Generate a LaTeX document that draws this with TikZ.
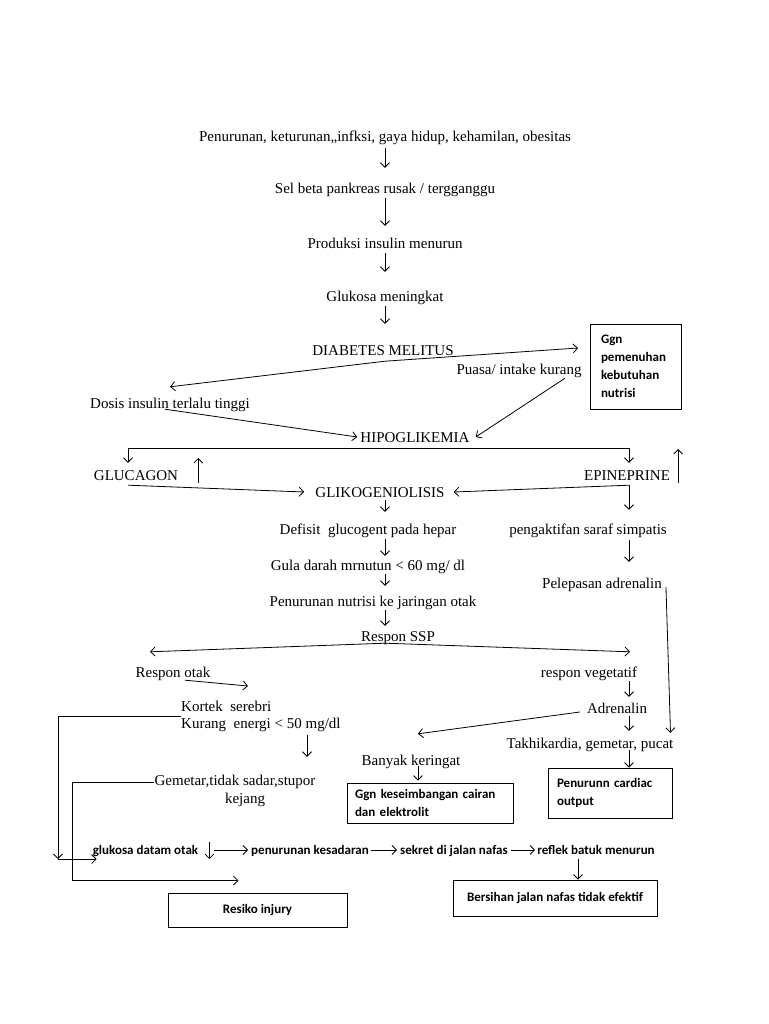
\documentclass[tikz,border=0pt]{standalone}
\usepackage{fontspec}
\setmainfont{Liberation Serif}
\newfontfamily\boxfont{Carlito}
\usetikzlibrary{arrows.meta}
\begin{document}
\begin{tikzpicture}[x=1pt,y=-1pt,
  txt/.style={inner sep=0pt, font=\fontsize{15}{17}\selectfont, text height=10pt, text depth=0pt},
  arr/.style={line width=0.8pt, -{Straight Barb[length=4.5pt,width=9pt]}},
  bx/.style={draw, line width=0.8pt, inner sep=0pt, font=\boxfont\bfseries\fontsize{13}{18}\selectfont},
  bt/.style={inner sep=0pt, font=\boxfont\bfseries\fontsize{13}{15}\selectfont, text height=9pt, text depth=0pt}]
\useasboundingbox[fill=white] (0,0) rectangle (768,1024);

% ---- text nodes ----
\node[txt] (t1) at (385,137) {Penurunan, keturunan,,infksi, gaya hidup, kehamilan, obesitas};
\node[txt] (t2) at (385,189) {Sel beta pankreas rusak / tergganggu};
\node[txt] (t3) at (385,243) {Produksi insulin menurun};
\node[txt] (t4) at (385,296) {Glukosa meningkat};
\node[txt] (dm) at (383,350) {DIABETES MELITUS};
\node[txt] (puasa) at (519,369) {Puasa/ intake kurang};
\node[txt] (dosis) at (170,403) {Dosis insulin terlalu tinggi};
\node[txt] (hipo) at (415,437) {HIPOGLIKEMIA};
\node[txt] (glucagon) at (136,475) {GLUCAGON};
\node[txt] (epi) at (627,475) {EPINEPRINE};
\node[txt] (gliko) at (380,492) {GLIKOGENIOLISIS};
\node[txt] (defisit) at (368,529) {Defisit~ glucogent pada hepar};
\node[txt] (pengak) at (588,529) {pengaktifan saraf simpatis};
\node[txt] (gula) at (368,565) {Gula darah mrnutun < 60 mg/ dl};
\node[txt] (pelepasan) at (602,583) {Pelepasan adrenalin};
\node[txt] (pn) at (373,601) {Penurunan nutrisi ke jaringan otak};
\node[txt] (ssp) at (398,636) {Respon SSP};
\node[txt] (resotak) at (173,672) {Respon otak};
\node[txt] (resveg) at (589,672) {respon vegetatif};
\node[inner sep=0pt, font=\fontsize{15}{17}\selectfont, align=left, anchor=west] (kortek) at (181,716.5) {Kortek~ serebri\\Kurang~ energi < 50 mg/dl};
\node[txt] (adren) at (617,708) {Adrenalin};
\node[txt] (takhi) at (590,743) {Takhikardia, gemetar, pucat};
\node[txt] (banyak) at (411,760) {Banyak keringat};
\node[txt] (gem1) at (235,780) {Gemetar,tidak sadar,stupor};
\node[txt] (gem2) at (245,798) {kejang};

% ---- boxes ----
\node[bx, minimum width=91pt, minimum height=85pt, text width=70pt, align=left] (ggn) at (636,366.5) {Ggn\\pemenuhan\\kebutuhan\\nutrisi};
\node[bx, minimum width=166pt, minimum height=40pt, text width=150pt, align=left] (kes) at (430,803) {Ggn keseimbangan cairan\\dan elektrolit};
\node[bx, minimum width=124pt, minimum height=50pt, text width=106pt, align=left] (cardiac) at (610,793) {Penurunn cardiac\\output};
\node[bx, minimum width=204pt, minimum height=36pt] (bersihan) at (555,898) {Bersihan jalan nafas tidak efektif};
\node[bx, minimum width=179pt, minimum height=34pt] (resiko) at (257.5,910) {Resiko injury};

% ---- bottom row ----
\node[bt] (g1) at (145.5,850) {glukosa datam otak};
\node[bt] (g2) at (310,850) {penurunan kesadaran};
\node[bt] (g3) at (454,850) {sekret di jalan nafas};
\node[bt] (g4) at (596,850) {reflek batuk menurun};

% ---- main chain ----
\draw[arr, shorten <=6pt, shorten >=16pt] (t1.south) -- (t2.north);
\draw[arr, shorten <=4pt, shorten >=12pt] (t2.south) -- (t3.north);
\draw[arr, shorten <=5pt, shorten >=19pt] (t3.south) -- (t4.north);
\draw[arr, shorten <=5pt, shorten >=21pt] (t4.south) -- (t4.south |- dm.north);

\coordinate (dmj) at ([xshift=2pt,yshift=-6pt]dm.south);
\draw[arr] (dmj) -- ([xshift=-12pt,yshift=18.5pt]ggn.west);
\draw[arr] (dmj) -- ([yshift=11pt]dosis.north);
\draw[arr] ([xshift=46pt,yshift=-4pt]puasa.south) -- ([xshift=6pt]hipo.east);
\draw[arr] ([xshift=-5pt,yshift=-1pt]dosis.south) -- ([xshift=-3pt]hipo.west);

\coordinate (hb) at ([yshift=-6pt]hipo.south);
\draw[arr] (hb) -| ([xshift=-8pt,yshift=7pt]glucagon.north);
\draw[arr] (hb) -| ([xshift=2pt,yshift=7pt]epi.north);

% up indicators
\draw[arr] ([xshift=20pt,yshift=-8pt]glucagon.east) -- ([xshift=20pt,yshift=17pt]glucagon.east);
\draw[arr] ([xshift=8pt,yshift=-8pt]epi.east) -- ([xshift=8pt,yshift=26pt]epi.east);

\draw[arr] ([xshift=-8pt,yshift=-5pt]glucagon.south) -- ([xshift=-11pt]gliko.west);
\coordinate (ej) at ([xshift=2pt,yshift=-5pt]epi.south);
\draw[arr] (ej) -- ([xshift=9pt]gliko.east);
\draw[arr, shorten >=14pt] (ej) -- (ej |- pengak.north);

\draw[arr, shorten <=3pt, shorten >=12pt] (t1.south |- gliko.south) -- (t1.south |- defisit.north);
\draw[arr, shorten <=5pt, shorten >=4pt] (t1.south |- defisit.south) -- (t1.south |- gula.north);
\draw[arr, shorten <=4pt, shorten >=10pt] (t1.south |- gula.south) -- (t1.south |- pn.north);
\draw[arr, shorten <=4pt, shorten >=5pt] (t1.south |- pn.south) -- (t1.south |- ssp.north);

\draw[arr, shorten <=6pt, shorten >=16pt] (ej |- pengak.south) -- (ej |- pelepasan.north);
\draw[arr] ([xshift=4pt,yshift=-4pt]pelepasan.east) -- ([xshift=-3pt,yshift=5pt]takhi.north east);

\coordinate (sj) at ([xshift=-13pt,yshift=-2pt]ssp.south);
\draw[arr] (sj) -- ([xshift=-23pt,yshift=15pt]resotak.north);
\draw[arr] (sj) -- ([xshift=41pt,yshift=15pt]resveg.north);

\draw[arr] ([xshift=12pt,yshift=-3pt]resotak.south) -- ([xshift=67pt,yshift=30.5pt]kortek.west);
\draw[arr, shorten <=4pt, shorten >=6pt] (ej |- resveg.south) -- (ej |- adren.north);
\draw[arr] ([xshift=-7pt,yshift=-4pt]adren.west) -- ([xshift=7pt,yshift=21pt]banyak.north);
\draw[arr, shorten <=3pt, shorten >=7pt] (ej |- adren.south) -- (ej |- takhi.north);
\draw[arr, shorten <=2pt] (ej |- takhi.south) -- (ej |- cardiac.north);
\draw[arr, shorten <=1pt, shorten >=2pt] ([xshift=7pt]banyak.south) -- ([xshift=7pt]banyak.south |- kes.north);

\draw[arr] ([xshift=72pt,yshift=40pt]gem1.north) -- ([xshift=72pt,yshift=18pt]gem1.north);

\coordinate (kl) at (58,859);
\draw[arr] (kortek.west) -| (kl);
\draw[arr] (kl) -- ([xshift=4pt]g1.west |- kl);
\draw[arr] ([yshift=-2pt]gem1.west) -- ++(-82,0) |- ([xshift=-19pt,yshift=12pt]resiko.north);

\draw[arr] ([xshift=11pt,yshift=8pt]g1.east) -- ([xshift=11pt,yshift=-9pt]g1.east);
\draw[arr, shorten >=3pt] ([xshift=16pt]g1.east) -- (g2.west);
\draw[arr, shorten <=2pt, shorten >=3pt] (g2.east) -- (g3.west);
\draw[arr, shorten <=3pt, shorten >=2pt] (g3.east) -- (g4.west);
\draw[arr, shorten <=4pt] ([xshift=-18pt]g4.south) -- ([xshift=-18pt]g4.south |- bersihan.north);
\end{tikzpicture}
\end{document}
